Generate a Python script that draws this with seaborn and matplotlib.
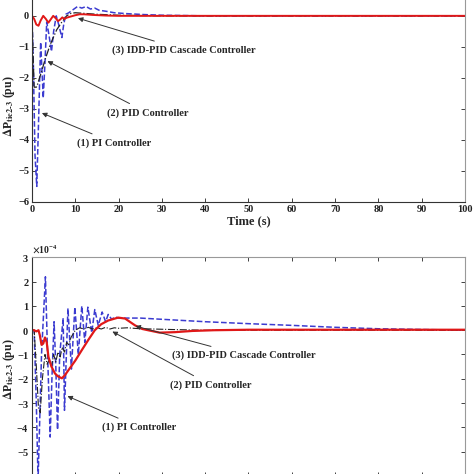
import numpy as np
import matplotlib
matplotlib.use("Agg")
import matplotlib.pyplot as plt
import seaborn as sns
from matplotlib.ticker import ScalarFormatter

# ---- top panel: ΔP_tie2-3 (pu), full scale ----
t_pi_top = [0, 0.3, 0.7, 1.1, 1.5, 2.0, 2.6, 3.0, 3.4, 3.9, 4.5, 5.0, 5.6, 6.2, 6.9, 7.3,
            7.8, 8.5, 9.5, 10.5, 11.5, 12.5, 13.5, 14.5, 15.5, 17, 19, 22, 26, 30, 40, 100]
y_pi_top = [0, -1.5, -4.5, -5.5, -3.5, -0.85, -2.65, -1.5, -0.2, -0.6, -1.15, -0.5, 0.0, -0.3,
            -0.7, -0.3, 0.05, 0.1, 0.2, 0.3, 0.25, 0.3, 0.22, 0.25, 0.18, 0.15, 0.1, 0.07, 0.04,
            0.02, 0, 0]

t_pid_top = [0, 0.3, 0.5, 1.0, 1.3, 2.2, 3.0, 4.2, 5.7, 6.9, 8.0, 9.0, 10, 12, 15, 20, 30, 100]
y_pid_top = [0, -1.5, -2.3, -2.3, -2.2, -1.8, -1.42, -0.93, -0.45, -0.2, 0.0, 0.08, 0.1, 0.08,
             0.05, 0.02, 0, 0]

t_idd_top = [0, 0.5, 1.0, 1.5, 2.0, 2.6, 3.2, 3.8, 4.4, 4.9, 5.5, 6.0, 6.5, 7.0, 7.5, 8.0,
             9.0, 10, 11, 12, 14, 17, 20, 100]
y_idd_top = [0, -0.1, -0.28, -0.32, -0.15, 0.0, -0.1, -0.22, -0.1, 0.0, -0.08, -0.17, -0.12,
             -0.05, -0.1, -0.06, -0.02, 0.02, 0.05, 0.05, 0.03, 0.01, 0, 0]

# ---- bottom panel: zoomed, values in units of 1e-4 pu ----
t_pi_bot = [0, 0.5, 1.0, 1.4, 2.2, 3.1, 3.6, 4.2, 4.6, 5.1, 5.5, 5.9, 6.4, 7.2, 7.5, 8.3, 9.1,
            9.9, 10.7, 11.5, 12.2, 12.9, 13.8, 14.5, 15.3, 16.2, 17.0, 17.6, 18.4, 19.2, 20,
            25, 30, 40, 50, 60, 70, 80, 90, 100]
y_pi_bot = [0, 0, -3.0, -6.2, -1.0, 2.2, -1.0, -4.4, -2.0, 0.35, -1.5, -4.1, -1.0, 0.5, -3.3,
            0.9, -1.6, 0.95, -1.0, 1.0, -0.5, 0.95, -0.1, 0.85, 0.2, 0.75, 0.35, 0.65, 0.45,
            0.55, 0.5, 0.5, 0.45, 0.35, 0.27, 0.2, 0.12, 0.06, 0.03, 0.0]

t_pid_bot = [0, 0.5, 1.0, 1.5, 1.9, 2.4, 3.0, 3.5, 4.0, 4.5, 5.0, 5.5, 6.0, 6.5, 7.0, 7.5, 8.0,
             8.5, 9.0, 10, 11, 12, 13, 14, 15, 16, 17, 18, 19, 20, 22, 25, 28, 32, 40, 100]
y_pid_bot = [0, 0, -1.5, -3.2, -3.4, -2.0, -1.0, -1.4, -1.2, -1.5, -1.0, -1.3, -0.9, -1.1, -0.7,
             -0.9, -0.5, -0.6, -0.3, 0.0, 0.1, 0.05, 0.12, 0.05, 0.1, 0.05, 0.12, 0.05, 0.1,
             0.08, 0.1, 0.06, 0.05, 0.03, 0.0, 0.0]

t_idd_bot = [0, 0.5, 1.0, 1.5, 1.8, 2.2, 2.6, 3.0, 3.4, 3.8, 4.5, 5.3, 6.0, 6.9, 7.6, 8.4, 10,
             11.5, 13, 14.5, 16, 17.6, 19.9, 21.5, 23.8, 25.5, 26.8, 29.5, 33, 37, 42, 50, 100]
y_idd_bot = [0, 0, -0.05, 0, -0.2, -0.6, -0.55, -0.3, -0.5, -1.1, -1.5, -1.78, -1.9, -1.98,
             -1.85, -1.65, -1.25, -0.82, -0.4, 0.0, 0.25, 0.4, 0.52, 0.48, 0.2, 0.05, 0.0, -0.1,
             -0.08, -0.03, 0.0, 0.02, 0.02]

xticks = [0, 10, 20, 30, 40, 50, 60, 70, 80, 90, 100]
yticks_top = [-6, -5, -4, -3, -2, -1, 0]
yticks_bot = [-5, -4, -3, -2, -1, 0, 1, 2, 3]

sns.set_style("ticks")
plt.rcParams['font.family'] = ['Liberation Serif', 'DejaVu Serif']
plt.rcParams['font.weight'] = 'bold'
plt.rcParams['mathtext.fontset'] = 'stix'
plt.rcParams['xtick.direction'] = 'in'
plt.rcParams['ytick.direction'] = 'in'

BLUE = '#3b3bd0'
RED = '#e01818'

fig = plt.figure(figsize=(4.74, 4.74), dpi=100)
ax1 = fig.add_axes([0.0675, 0.574, 0.9135, 0.458])
ax2 = fig.add_axes([0.0675, -0.004, 0.9135, 0.461])


def style_axes(ax):
    for side in ['left', 'bottom']:
        ax.spines[side].set_color('#333333')
    for side in ['right', 'top']:
        ax.spines[side].set_color('#999999')
    for s in ax.spines.values():
        s.set_linewidth(0.8)
    ax.tick_params(top=True, right=True, length=3, width=0.6, labelsize=7.5, colors='#222222')
    ax.tick_params(axis='both', pad=2)


ylab = r'$\Delta$P$_{\mathbf{tie2\text{-}3}}$ (pu)'

# top
sns.lineplot(x=t_pi_top, y=y_pi_top, ax=ax1, color=BLUE, linestyle='--', lw=1.1,
             sort=False, estimator=None)
sns.lineplot(x=t_pid_top, y=y_pid_top, ax=ax1, color='#222222', linestyle='-.', lw=0.9,
             sort=False, estimator=None)
sns.lineplot(x=t_idd_top, y=y_idd_top, ax=ax1, color=RED, linestyle='-', lw=1.4,
             sort=False, estimator=None)
ax1.set_xlim(0, 100)
ax1.set_ylim(-6, 1)
ax1.set_xticks(xticks)
ax1.set_yticks(yticks_top)
style_axes(ax1)
ax1.set_xlabel('Time (s)', fontsize=9, fontweight='bold', labelpad=1)
ax1.set_ylabel(ylab, fontsize=8.5, fontweight='bold')
ax1.yaxis.set_label_coords(-0.035, 0.44)

arrow = dict(arrowstyle='-|>', color='#333333', lw=0.7, mutation_scale=7)
tkw = dict(fontsize=7.5, fontweight='bold', ha='left', va='center')
ax1.annotate('(3) IDD-PID Cascade Controller', xy=(10, -0.05), xytext=(18.5, -1.1),
             arrowprops=arrow, **tkw)
ax1.annotate('(2) PID Controller', xy=(3.0, -1.42), xytext=(17.3, -3.13),
             arrowprops=arrow, **tkw)
ax1.annotate('(1) PI Controller', xy=(1.7, -3.1), xytext=(10.4, -4.1),
             arrowprops=arrow, **tkw)

# bottom
scale = 1e-4
sns.lineplot(x=t_pi_bot, y=np.array(y_pi_bot) * scale, ax=ax2, color=BLUE, linestyle='--',
             lw=1.1, sort=False, estimator=None)
sns.lineplot(x=t_pid_bot, y=np.array(y_pid_bot) * scale, ax=ax2, color='#222222',
             linestyle='-.', lw=0.8, sort=False, estimator=None)
sns.lineplot(x=t_idd_bot, y=np.array(y_idd_bot) * scale, ax=ax2, color=RED, linestyle='-',
             lw=1.6, sort=False, estimator=None)
ax2.set_xlim(0, 100)
ax2.set_ylim(-6e-4, 3e-4)
ax2.set_xticks(xticks)
ax2.set_xticklabels([])
ax2.set_yticks(np.array(yticks_bot) * scale)
fmt = ScalarFormatter(useMathText=True)
fmt.set_powerlimits((0, 0))
ax2.yaxis.set_major_formatter(fmt)
ax2.yaxis.get_offset_text().set_fontsize(7)
style_axes(ax2)
ax2.set_xlabel('')
ax2.set_ylabel(ylab, fontsize=8.5, fontweight='bold')
ax2.yaxis.set_label_coords(-0.035, 0.49)

ax2.annotate('(3) IDD-PID Cascade Controller', xy=(23.3, 0.2 * scale),
             xytext=(32.3, -1.03 * scale), arrowprops=arrow, **tkw)
ax2.annotate('(2) PID Controller', xy=(18, 0.0), xytext=(31.9, -2.26 * scale),
             arrowprops=arrow, **tkw)
ax2.annotate('(1) PI Controller', xy=(7.6, -2.67 * scale), xytext=(16.2, -4.0 * scale),
             arrowprops=arrow, **tkw)

fig.savefig('out.png', dpi=100, facecolor='white')
